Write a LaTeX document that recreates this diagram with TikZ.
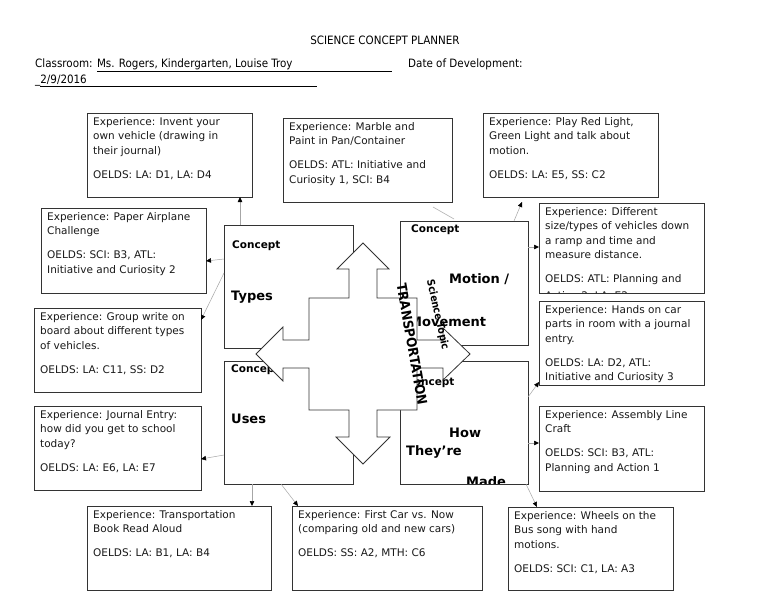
\documentclass[tikz,border=0pt]{standalone}
\usepackage{fontspec}
\setmainfont{DejaVu Sans}
\newfontfamily\condfont{DejaVu Sans Condensed}
\usetikzlibrary{arrows.meta}
\begin{document}
\begin{tikzpicture}[x=1pt,y=-1pt,
  ebox/.style={draw=black!80, line width=0.8pt, fill=white, inner sep=0pt, outer sep=0pt, anchor=north west},
  etext/.style={anchor=north west, align=left, inner sep=0pt, text=black!90, font=\fontsize{10.5}{14.3}\selectfont},
  clab/.style={anchor=west, inner sep=0pt, font=\bfseries\fontsize{10.5}{12}\selectfont},
  cbig/.style={anchor=west, inner sep=0pt, font=\bfseries\fontsize{13}{15}\selectfont},
  conn/.style={draw=black!35, line width=0.5pt, -{Triangle[length=5pt,width=4.5pt,color=black]}},
  plainconn/.style={draw=black!35, line width=0.5pt},
  hdr/.style={inner sep=0pt, font=\condfont\fontsize{11.5}{13}\selectfont},
  bigarrow/.style={draw=black!80, line width=0.8pt, fill=white}
]
\path[use as bounding box, fill=white] (0,0) rectangle (768,594);

% header
\node[hdr, anchor=base] (title) at (385,45) {SCIENCE CONCEPT PLANNER};
\node[hdr, anchor=base west] (cls) at (35,67.5) {Classroom: \underline{\makebox[295pt][l]{Ms. Rogers, Kindergarten, Louise Troy}}};
\node[hdr, anchor=base west] (dod) at (408,67.5) {Date of Development:};
\node[hdr, anchor=base west] (dt) at (35,83.5) {\_\underline{\makebox[277pt][l]{2/9/2016}}};

% experience boxes
\node[ebox, minimum width=165pt, minimum height=84pt] (A) at (87,113) {};
\node[ebox, minimum width=165pt, minimum height=85pt] (B) at (41,208) {};
\node[ebox, minimum width=167pt, minimum height=84pt] (C) at (34,308) {};
\node[ebox, minimum width=167pt, minimum height=84pt] (D) at (34,406) {};
\node[ebox, minimum width=184pt, minimum height=84pt] (E) at (87,506) {};
\node[ebox, minimum width=190pt, minimum height=84pt] (F) at (292,506) {};
\node[ebox, minimum width=165pt, minimum height=83pt] (G) at (508,507) {};
\node[ebox, minimum width=165pt, minimum height=85pt] (Hh) at (539,406) {};
\node[ebox, minimum width=165pt, minimum height=84pt] (I) at (539,301) {};
\node[ebox, minimum width=165pt, minimum height=90pt] (J) at (539,203) {};
\node[ebox, minimum width=175pt, minimum height=84pt] (K) at (483,113) {};
\node[ebox, minimum width=169pt, minimum height=84pt] (L) at (283,118) {};

\node[etext] (At) at ([xshift=6pt,yshift=-4.5pt]A.north west) {Experience: Invent your\\own vehicle (drawing in\\their journal)\\[9.5pt]OELDS: LA: D1, LA: D4};
\node[etext] (Bt) at ([xshift=6pt,yshift=-4.5pt]B.north west) {Experience: Paper Airplane\\Challenge\\[9.5pt]OELDS: SCI: B3, ATL:\\Initiative and Curiosity 2};
\node[etext] (Ct) at ([xshift=6pt,yshift=-4.5pt]C.north west) {Experience: Group write on\\board about different types\\of vehicles.\\[9.5pt]OELDS: LA: C11, SS: D2};
\node[etext] (Dt) at ([xshift=6pt,yshift=-4.5pt]D.north west) {Experience: Journal Entry:\\how did you get to school\\today?\\[9.5pt]OELDS: LA: E6, LA: E7};
\node[etext] (Et) at ([xshift=6pt,yshift=-4.5pt]E.north west) {Experience: Transportation\\Book Read Aloud\\[9.5pt]OELDS: LA: B1, LA: B4};
\node[etext] (Ft) at ([xshift=6pt,yshift=-4.5pt]F.north west) {Experience: First Car vs. Now\\(comparing old and new cars)\\[9.5pt]OELDS: SS: A2, MTH: C6};
\node[etext] (Gt) at ([xshift=6pt,yshift=-4.5pt]G.north west) {Experience: Wheels on the\\Bus song with hand\\motions.\\[9.5pt]OELDS: SCI: C1, LA: A3};
\node[etext] (Hht) at ([xshift=6pt,yshift=-4.5pt]Hh.north west) {Experience: Assembly Line\\Craft\\[9.5pt]OELDS: SCI: B3, ATL:\\Planning and Action 1};
\node[etext] (It) at ([xshift=6pt,yshift=-4.5pt]I.north west) {Experience: Hands on car\\parts in room with a journal\\entry.\\[9.5pt]OELDS: LA: D2, ATL:\\Initiative and Curiosity 3};
\begin{scope}
\clip ([yshift=-0.4pt]J.north west) rectangle ([yshift=0.4pt]J.south east);
\node[etext] (Jt) at ([xshift=6pt,yshift=-4.5pt]J.north west) {Experience: Different\\size/types of vehicles down\\a ramp and time and\\measure distance.\\[9.5pt]OELDS: ATL: Planning and\\[2.5pt]Action 2, LA: E2};
\end{scope}
\node[etext] (Kt) at ([xshift=6pt,yshift=-4.5pt]K.north west) {Experience: Play Red Light,\\Green Light and talk about\\motion.\\[9.5pt]OELDS: LA: E5, SS: C2};
\node[etext] (Lt) at ([xshift=6pt,yshift=-4.5pt]L.north west) {Experience: Marble and\\Paint in Pan/Container\\[9.5pt]OELDS: ATL: Initiative and\\Curiosity 1, SCI: B4};

% concept boxes
\node[ebox, minimum width=129pt, minimum height=123pt] (Ty) at (224,225) {};
\node[ebox, minimum width=128pt, minimum height=124pt] (Mo) at (400,221) {};
\node[ebox, minimum width=129pt, minimum height=123pt] (Us) at (224,361) {};
\node[ebox, minimum width=128pt, minimum height=123pt] (Hm) at (400,361) {};

\node[clab] (Tyc) at (232,246) {Concept};
\node[cbig] (Tyn) at (231,297) {Types};
\node[clab] (Moc) at (411,230) {Concept};
\node[cbig] (Mon1) at (449,279) {Motion /};
\node[cbig] (Mon2) at (409,322) {Movement};
\node[clab] (Usc) at (231,370) {Concept};
\node[cbig] (Usn) at (231,419) {Uses};
\node[clab] (Hmc) at (406,383) {Concept};
\node[cbig] (Hmn1) at (449,433) {How};
\node[cbig] (Hmn2) at (406,452) {They’re};
\begin{scope}
\clip ([yshift=-0.4pt]Hm.north west) rectangle ([yshift=0.4pt]Hm.south east);
\node[cbig] (Hmn3) at (466,481.5) {Made};
\end{scope}

% connectors
\draw[conn] ([xshift=16pt]Ty.north west) -- ([xshift=153pt]A.south west);
\draw[conn] ([yshift=-34pt]Ty.north west) -- ([yshift=-53pt]B.north east);
\draw[conn] ([yshift=-48pt]Ty.north west) -- ([yshift=-12pt]C.north east);
\draw[conn] ([yshift=-94pt]Us.north west) -- ([yshift=-53pt]D.north east);
\draw[conn] ([xshift=28pt]Us.south west) -- ([xshift=165pt]E.north west);
\draw[conn] ([xshift=57pt]Us.south west) -- ([xshift=6pt]F.north west);
\draw[conn] ([xshift=-2pt]Hm.south east) -- ([xshift=29pt]G.north west);
\draw[conn] ([yshift=-82pt]Hm.north east) -- ([yshift=-37pt]Hh.north west);
\draw[conn] ([yshift=-36pt]Hm.north east) -- ([yshift=3pt]I.south west);
\draw[conn] ([yshift=-26pt]Mo.north east) -- ([yshift=-44pt]J.north west);
\draw[conn] ([xshift=-14pt]Mo.north east) -- ([xshift=39pt,yshift=-5pt]K.south west);
\draw[plainconn] ([xshift=54pt,yshift=2pt]Mo.north west) -- ([xshift=150pt,yshift=-5pt]L.south west);

% central four-way arrow
\draw[bigarrow] (363,243) -- (389,269) -- (377,269) -- (377,298) -- (417,298) -- (417,340)
  -- (443,340) -- (443,328) -- (470,354) -- (443,380) -- (443,368) -- (417,368) -- (417,410)
  -- (377,410) -- (377,437) -- (390,437) -- (363,464) -- (336,437) -- (349,437) -- (349,410)
  -- (309,410) -- (309,368) -- (283,368) -- (283,381) -- (256,354) -- (283,327) -- (283,340)
  -- (309,340) -- (309,298) -- (349,298) -- (349,269) -- (337,269) -- cycle;

\node[rotate=-80, inner sep=0pt, font=\condfont\bfseries\fontsize{13.5}{15}\selectfont] (trans) at (412,344) {TRANSPORTATION};
\node[rotate=-77.5, inner sep=0pt, font=\condfont\bfseries\fontsize{10.5}{12}\selectfont] (sci) at (437.5,315) {Science Topic};
\end{tikzpicture}
\end{document}
